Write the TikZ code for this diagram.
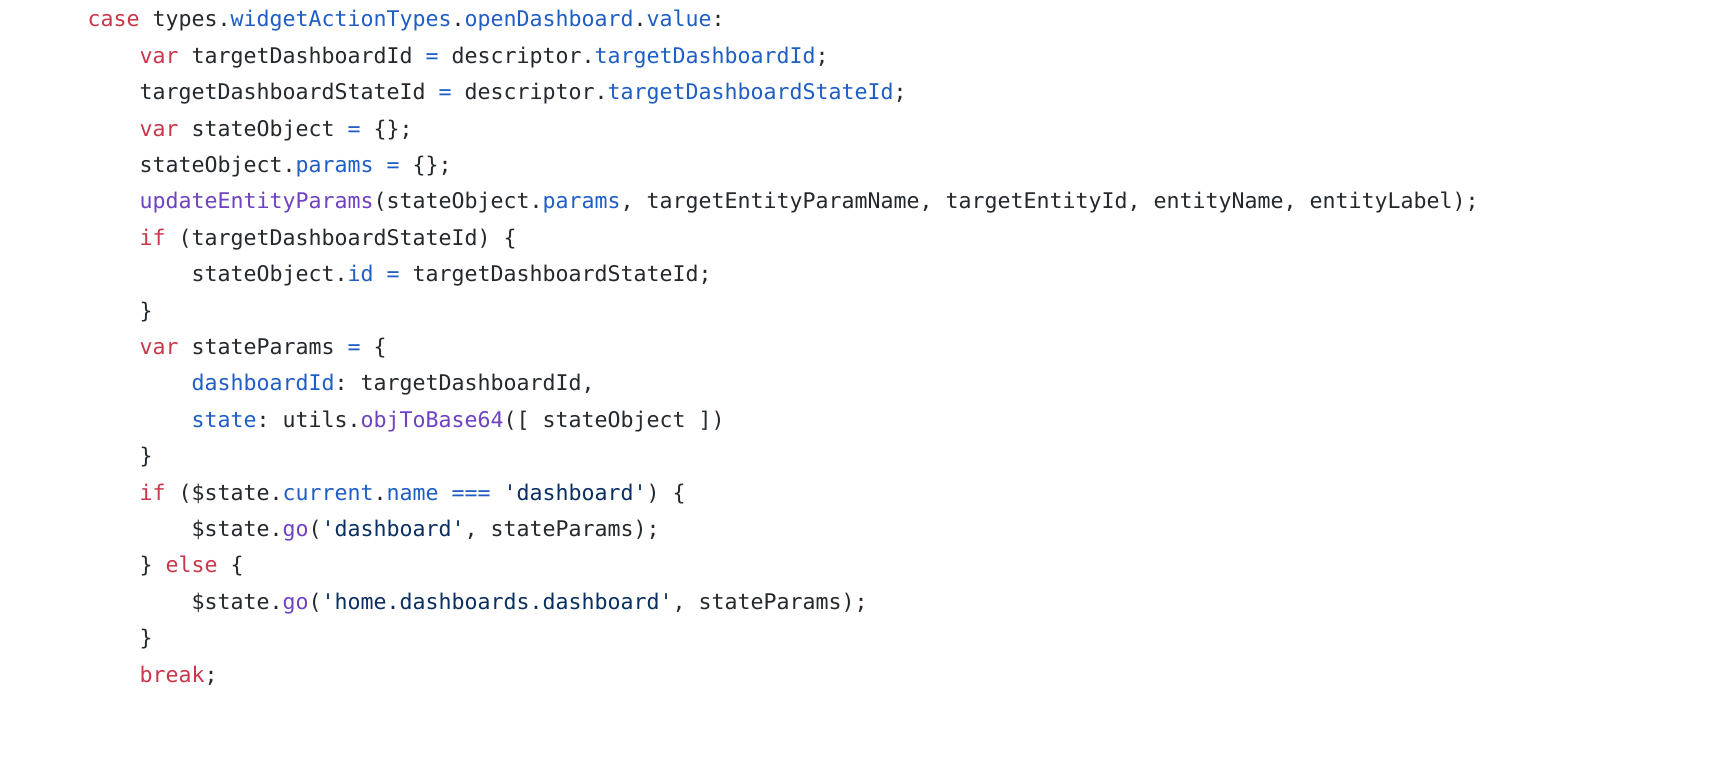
\documentclass[tikz,border=0pt]{standalone}
\usepackage{fontspec}
\setmonofont{DejaVu Sans Mono}
\definecolor{kwc}{HTML}{C9374A}
\definecolor{prc}{HTML}{1F5EC4}
\definecolor{fnc}{HTML}{6F42C1}
\definecolor{stc}{HTML}{0A2F62}
\definecolor{txc}{HTML}{24292E}
\newcommand{\kw}[1]{\textcolor{kwc}{#1}}
\newcommand{\pr}[1]{\textcolor{prc}{#1}}
\newcommand{\fn}[1]{\textcolor{fnc}{#1}}
\newcommand{\st}[1]{\textcolor{stc}{#1}}
\begin{document}
\begin{tikzpicture}[x=0.01cm,y=-0.01cm,
  codeline/.style={anchor=base west,inner sep=0pt,text=txc,font=\ttfamily\fontsize{6.14pt}{7pt}\selectfont}]
\useasboundingbox[fill=white] (0,0) rectangle (1732,768);
\node[codeline] (l0) at (87,27) {\kw{case} types.\pr{widgetActionTypes}.\pr{openDashboard}.\pr{value}:};
\node[codeline] (l1) at (139,63.4) {\kw{var} targetDashboardId \pr{=} descriptor.\pr{targetDashboardId};};
\node[codeline] (l2) at (139,99.8) {targetDashboardStateId \pr{=} descriptor.\pr{targetDashboardStateId};};
\node[codeline] (l3) at (139,136.2) {\kw{var} stateObject \pr{=} \{\};};
\node[codeline] (l4) at (139,172.6) {stateObject.\pr{params} \pr{=} \{\};};
\node[codeline] (l5) at (139,209) {\fn{updateEntityParams}(stateObject.\pr{params}, targetEntityParamName, targetEntityId, entityName, entityLabel);};
\node[codeline] (l6) at (139,245.4) {\kw{if} (targetDashboardStateId) \{};
\node[codeline] (l7) at (191,281.8) {stateObject.\pr{id} \pr{=} targetDashboardStateId;};
\node[codeline] (l8) at (139,318.2) {\}};
\node[codeline] (l9) at (139,354.6) {\kw{var} stateParams \pr{=} \{};
\node[codeline] (l10) at (191,391) {\pr{dashboardId}: targetDashboardId,};
\node[codeline] (l11) at (191,427.4) {\pr{state}: utils.\fn{objToBase64}([ stateObject ])};
\node[codeline] (l12) at (139,463.8) {\}};
\node[codeline] (l13) at (139,500.2) {\kw{if} (\$state.\pr{current}.\pr{name} \pr{===} \st{'dashboard'}) \{};
\node[codeline] (l14) at (191,536.6) {\$state.\fn{go}(\st{'dashboard'}, stateParams);};
\node[codeline] (l15) at (139,573) {\} \kw{else} \{};
\node[codeline] (l16) at (191,609.4) {\$state.\fn{go}(\st{'home.dashboards.dashboard'}, stateParams);};
\node[codeline] (l17) at (139,645.8) {\}};
\node[codeline] (l18) at (139,682.2) {\kw{break};};
\end{tikzpicture}
\end{document}
